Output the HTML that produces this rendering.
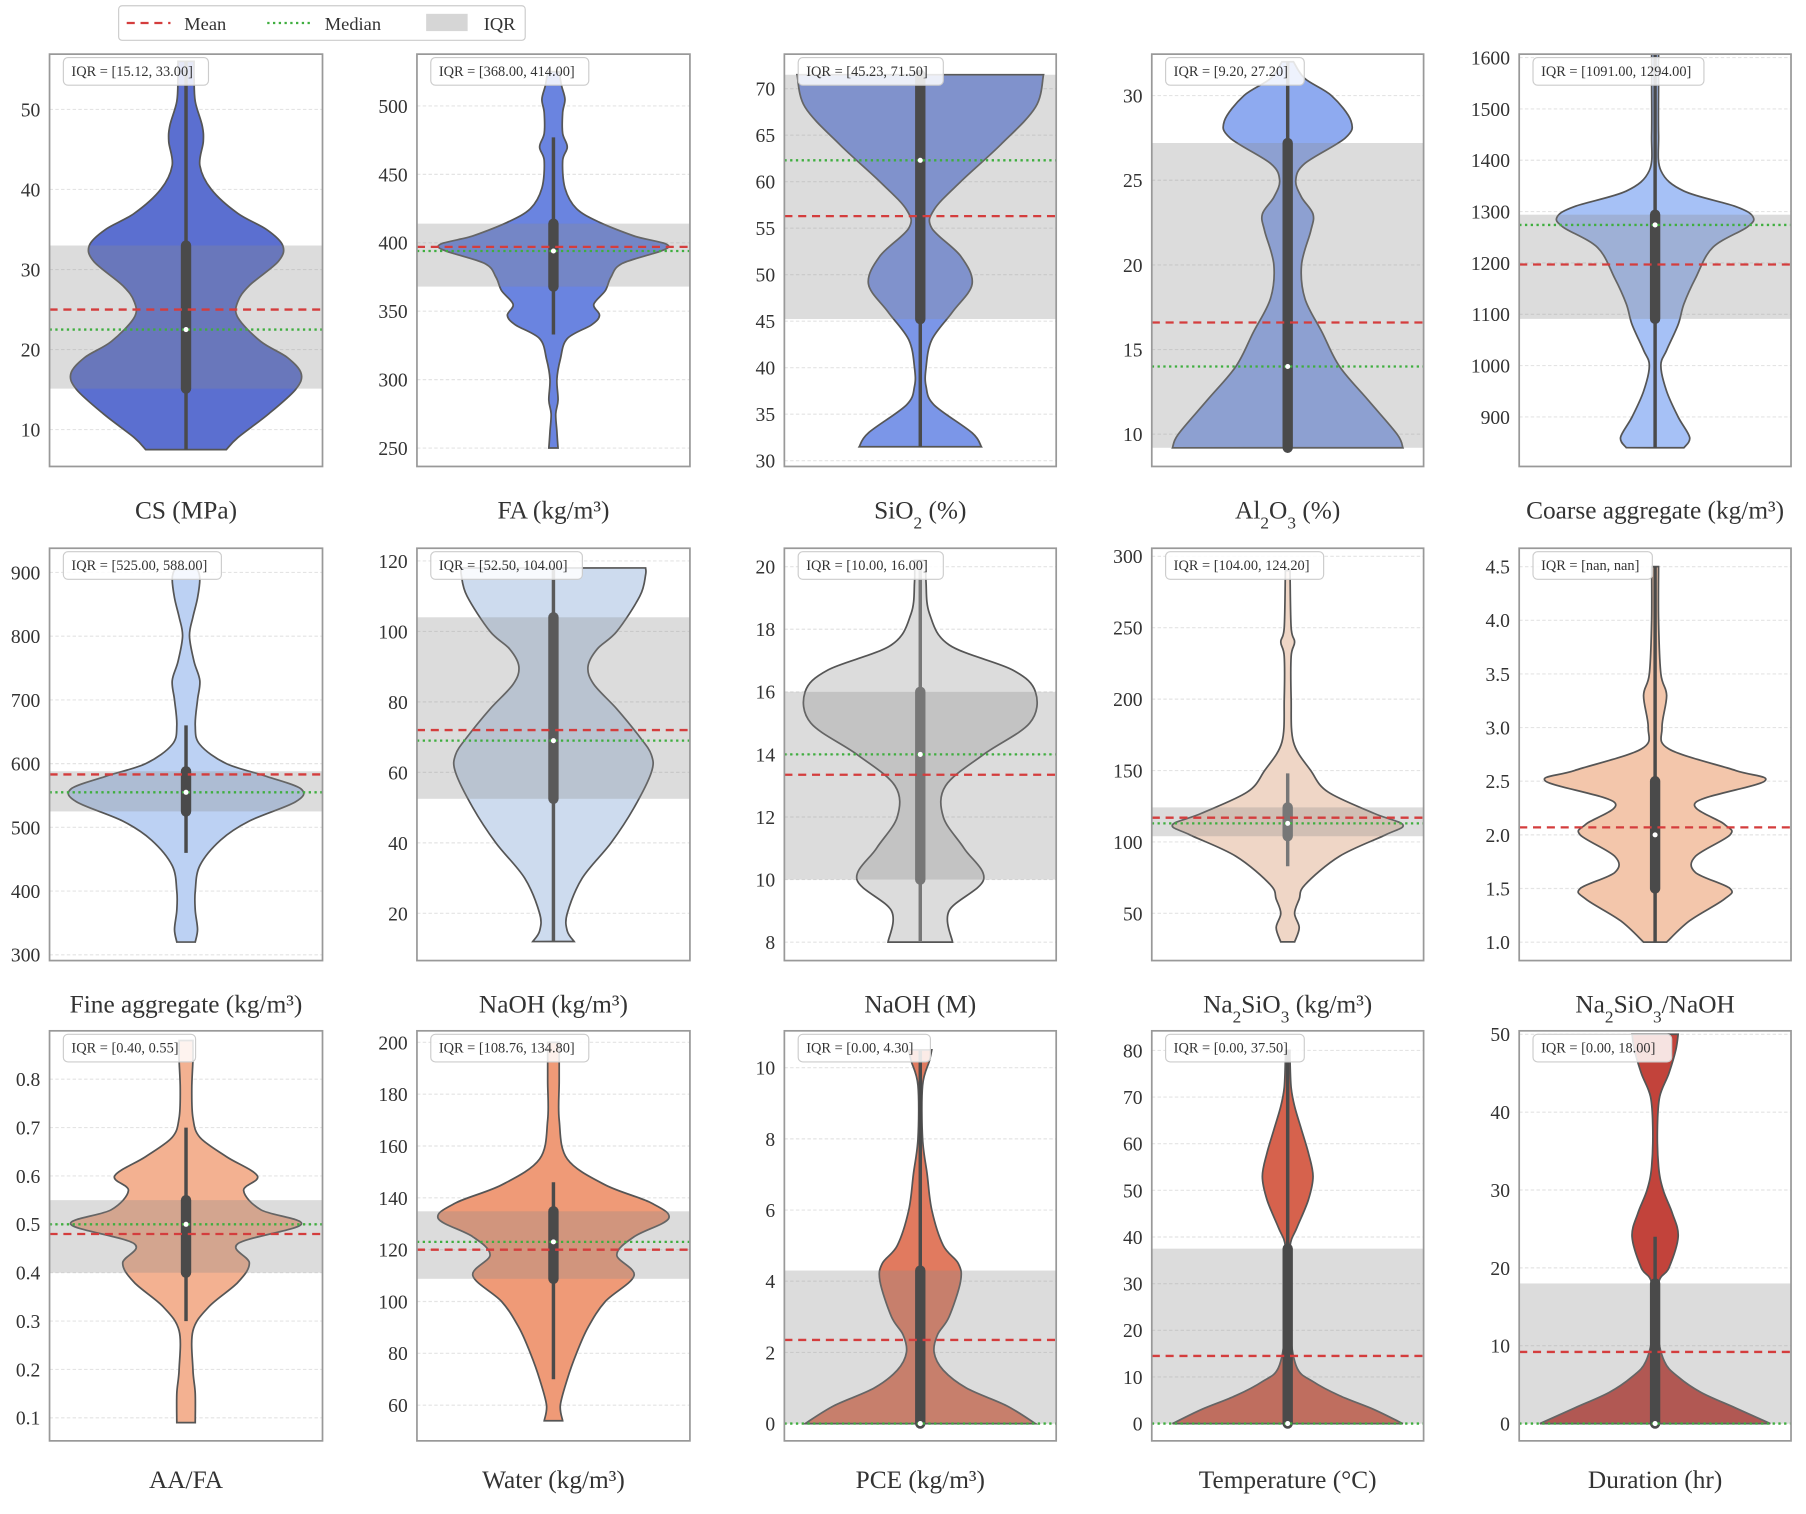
<!DOCTYPE html>
<html><head><meta charset="utf-8"><style>
html,body{margin:0;padding:0;background:#fff}
svg{display:block}
svg text{font-family:"Liberation Serif","DejaVu Serif",serif;fill:#333}
</style></head><body>
<svg id="chart" width="1806" height="1514" viewBox="0 0 1568 1314.5" xmlns="http://www.w3.org/2000/svg" font-family="Liberation Serif, serif">
<g>
<rect x="103" y="5" width="353" height="30" rx="3" fill="#fff" stroke="#ccc"/>
<line x1="110" y1="20" x2="148" y2="20" stroke="#d43d3d" stroke-width="2" stroke-dasharray="7,5"/>
<text x="160" y="26" font-size="16">Mean</text>
<line x1="232" y1="20" x2="270" y2="20" stroke="#3fae3f" stroke-width="2" stroke-dasharray="2,3"/>
<text x="282" y="26" font-size="16">Median</text>
<rect x="370" y="12" width="36" height="15" fill="#d6d6d6"/>
<text x="420" y="26" font-size="16">IQR</text>
</g>
<g id="panels"></g>
</svg>
<script>
// ---- data ----
const titles = ["CS (MPa)","FA (kg/m³)","SiO2 (%)","Al2O3 (%)","Coarse aggregate (kg/m³)","Fine aggregate (kg/m³)","NaOH (kg/m³)","NaOH (M)","Na2SiO3 (kg/m³)","Na2SiO3/NaOH","AA/FA","Water (kg/m³)","PCE (kg/m³)","Temperature (°C)","Duration (hr)"];
const q1s = [15.12,368,45.23,9.2,1091,525,52.5,10,104,null,0.40,108.76,0,0,0];
const q3s = [33,414,71.5,27.2,1294,588,104,16,124.2,null,0.55,134.8,4.3,37.5,18];
const means = [25,397,56.3,16.6,1197,583,72,13.35,117,2.07,0.48,120,2.35,14.5,9.2];
const medians = [22.5,394,62.3,14,1274,555,69,14,113,2.0,0.50,123,0,0,0];
const boxLo = [15.12,368,45.23,9.2,1091,525,52.5,10,104,1.5,0.40,108.76,0,0,0];
const boxHi = [33,414,71.5,27.2,1294,588,104,16,124.2,2.5,0.55,134.8,4.3,37.5,18];
const whiskLo = [7.5,333,31.5,9.2,840,460,12,8,83,1.0,0.3,70,0,0,0];
const whiskHi = [56,477,71.5,32,1620,660,118,20.2,148,4.5,0.7,146,10.5,80,24];
const iqrLabels = ["[15.12, 33.00]","[368.00, 414.00]","[45.23, 71.50]","[9.20, 27.20]","[1091.00, 1294.00]","[525.00, 588.00]","[52.50, 104.00]","[10.00, 16.00]","[104.00, 124.20]","[nan, nan]","[0.40, 0.55]","[108.76, 134.80]","[0.00, 4.30]","[0.00, 37.50]","[0.00, 18.00]"];
const ticks = [[10,20,30,40,50],[250,300,350,400,450,500],[30,35,40,45,50,55,60,65,70],[10,15,20,25,30],[900,1000,1100,1200,1300,1400,1500,1600],
 [300,400,500,600,700,800,900],[20,40,60,80,100,120],[8,10,12,14,16,18,20],[50,100,150,200,250,300],[1.0,1.5,2.0,2.5,3.0,3.5,4.0,4.5],
 [0.1,0.2,0.3,0.4,0.5,0.6,0.7,0.8],[60,80,100,120,140,160,180,200],[0,2,4,6,8,10],[0,10,20,30,40,50,60,70,80],[0,10,20,30,40,50]];
const tickFmt = [0,0,0,0,0,0,0,0,0,1,1,0,0,0,0];
const densVals = [
 [7.5,9,12,15,17,19,21,24,26,28,31,33,35,37,40,43,46,48,51,54,56],
 [250,262,275,285,300,315,330,340,347,355,365,375,385,397,405,415,425,440,460,470,480,495,505,515,525],
 [31.5,33,36,38,40,43,46,49,52,55,57,60,64,68,71.5],
 [9.2,10,12,14,16,18,20,22,23,24,25,26,27.5,28.5,30,31,32],
 [840,860,900,950,1000,1030,1080,1120,1170,1230,1270,1290,1310,1340,1380,1450,1550,1620],
 [320,340,370,400,440,480,510,540,560,580,600,630,660,700,730,760,800,830,860,890,905],
 [12,15,20,30,40,50,60,65,70,78,85,90,95,100,110,116,118],
 [8,9,10,11,12,13,14,15,16,16.7,17.5,18.5,19.5,20.2],
 [30,40,50,60,70,90,105,112,120,135,150,170,200,230,240,250,290],
 [1.0,1.2,1.4,1.5,1.65,1.8,2.0,2.1,2.3,2.5,2.6,2.8,3.0,3.3,3.5,4.0,4.5],
 [0.09,0.15,0.2,0.28,0.33,0.38,0.42,0.46,0.5,0.53,0.57,0.6,0.64,0.68,0.72,0.78,0.84,0.88],
 [54,60,70,80,90,100,110,118,125,132,138,145,155,170,185,200],
 [0,0.5,1,1.5,2,2.5,3,4,4.5,5,6,7,8,9.5,10.2,10.5],
 [0,3,6,9,12,20,30,38,42,48,53,58,63,68,72,78,80],
 [0,2,4,6,8,12,18,20,24,27,30,33,38,42,45,48,50]];
const densWidths = [
 [0.35,0.45,0.72,0.95,1.0,0.88,0.65,0.45,0.45,0.55,0.8,0.84,0.7,0.45,0.22,0.12,0.15,0.14,0.08,0.07,0.07],
 [0.04,0.03,0.02,0.04,0.03,0.06,0.12,0.33,0.4,0.35,0.45,0.5,0.6,1.0,0.7,0.4,0.2,0.1,0.08,0.12,0.08,0.08,0.1,0.07,0.05],
 [0.53,0.45,0.12,0.05,0.05,0.1,0.28,0.45,0.35,0.1,0.12,0.35,0.7,1.0,1.07],
 [1.0,0.95,0.7,0.45,0.3,0.15,0.12,0.2,0.22,0.12,0.07,0.15,0.5,0.55,0.38,0.15,0.05],
 [0.25,0.3,0.2,0.1,0.05,0.1,0.2,0.25,0.35,0.5,0.8,0.85,0.7,0.25,0.05,0.03,0.03,0.03],
 [0.08,0.1,0.08,0.08,0.12,0.3,0.55,0.95,1.0,0.7,0.35,0.12,0.08,0.1,0.12,0.07,0.03,0.06,0.1,0.12,0.1],
 [0.18,0.12,0.12,0.25,0.5,0.7,0.85,0.85,0.75,0.55,0.35,0.3,0.38,0.55,0.75,0.8,0.8],
 [0.28,0.25,0.55,0.38,0.2,0.22,0.55,0.95,1.0,0.8,0.25,0.08,0.05,0.05],
 [0.06,0.1,0.06,0.1,0.15,0.45,0.85,1.0,0.75,0.35,0.2,0.05,0.03,0.03,0.06,0.03,0.02],
 [0.1,0.3,0.6,0.65,0.35,0.35,0.65,0.6,0.35,0.95,0.7,0.12,0.06,0.1,0.05,0.03,0.03],
 [0.08,0.08,0.06,0.06,0.2,0.45,0.55,0.45,1.0,0.65,0.5,0.62,0.35,0.12,0.06,0.05,0.06,0.06],
 [0.08,0.06,0.12,0.2,0.3,0.45,0.7,0.55,0.7,1.0,0.85,0.45,0.12,0.05,0.05,0.05],
 [1.0,0.75,0.4,0.2,0.12,0.15,0.25,0.35,0.33,0.2,0.1,0.06,0.02,0.02,0.08,0.1],
 [1.0,0.75,0.45,0.22,0.08,0.02,0.02,0.02,0.08,0.18,0.22,0.18,0.12,0.06,0.03,0.02,0.02],
 [1.0,0.7,0.4,0.2,0.08,0.02,0.03,0.12,0.2,0.15,0.07,0.03,0.02,0.04,0.12,0.18,0.2]];
// ---- layout (not data) ----
const colors = ["#5b6fd0","#6a84e0","#7b96e8","#8eaaf0","#a6c1f6","#bcd1f3","#cddbee","#dcdcdc","#efd6c6","#f3c6ab","#f3b191","#ef9a77","#e17a5f","#d6624d","#c2433b"];
const boxColors = ["#4a4a4a","#4a4a4a","#4a4a4a","#4a4a4a","#4a4a4a","#4a4a4a","#5a5a5a","#777","#777","#4a4a4a","#4a4a4a","#4a4a4a","#4a4a4a","#4a4a4a","#4a4a4a"];
const colX = [[43,280],[362,599],[681,917],[1000,1236],[1319,1555]];
const rowY = [[47,405],[476,834],[895,1251]];
const calib = [[95,373],[92,389],[77,400],[83,377],[50,362],[497,829],[487,793],[492,818],[483,793],[492,818],[937,1231],[905,1220],[927,1236],[912,1236],[898,1236]];
const titleY = [450,879,1292];
const MAXW = 100;
const FONT = '"Liberation Serif", "DejaVu Serif", serif';
const NS = "http://www.w3.org/2000/svg";
const root = document.getElementById('panels');
function mk(tag, attrs, parent){const e=document.createElementNS(NS,tag);for(const k in attrs)e.setAttribute(k,attrs[k]);if(tag==='text')e.setAttribute('font-family',FONT);(parent||root).appendChild(e);return e;}
function yScale(i,v){const t=ticks[i];const lo=t[0],hi=t[t.length-1];const [yhi,ylo]=calib[i];return ylo+(v-lo)*(yhi-ylo)/(hi-lo);}
function smooth(pts){let d="";for(let k=0;k<pts.length-1;k++){const p0=pts[Math.max(0,k-1)],p1=pts[k],p2=pts[k+1],p3=pts[Math.min(pts.length-1,k+2)];
 const c1=[p1[0]+(p2[0]-p0[0])/6,p1[1]+(p2[1]-p0[1])/6],c2=[p2[0]-(p3[0]-p1[0])/6,p2[1]-(p3[1]-p1[1])/6];
 d+=` C${c1[0].toFixed(1)},${c1[1].toFixed(1)} ${c2[0].toFixed(1)},${c2[1].toFixed(1)} ${p2[0].toFixed(1)},${p2[1].toFixed(1)}`;}return d;}
function titleText(i,x,y,g){
 const t=mk('text',{x:x,y:y,'font-size':22,'text-anchor':'middle'},g);
 const s=titles[i];
 const parts=[];
 if(s.startsWith("SiO2")) parts.push(["SiO",0],["2",1],[s.slice(4),0]);
 else if(s.startsWith("Al2O3")) parts.push(["Al",0],["2",1],["O",0],["3",1],[s.slice(5),0]);
 else if(s.startsWith("Na2SiO3")) parts.push(["Na",0],["2",1],["SiO",0],["3",1],[s.slice(7),0]);
 else parts.push([s,0]);
 parts.forEach(p=>{const ts=mk('tspan',{},t);if(p[1]){ts.setAttribute('font-size','15');ts.setAttribute('baseline-shift','sub');}ts.textContent=p[0];});
 return t;}
for(let i=0;i<15;i++){
 const r=Math.floor(i/5),c=i%5;
 const [x0,x1]=colX[c],[y0,y1]=rowY[r];const cx=(x0+x1)/2;
 const g=mk('g',{});
 
 
 const clipId='clip'+i;
 const cp=mk('clipPath',{id:clipId},g);mk('rect',{x:x0,y:y0,width:x1-x0,height:y1-y0},cp);
 mk('rect',{x:x0,y:y0,width:x1-x0,height:y1-y0,fill:'#fff'},g);
 const inner=mk('g',{'clip-path':`url(#${clipId})`},g);
 ticks[i].forEach(v=>{const y=yScale(i,v);const gl=mk('line',{x1:x0,x2:x1,y1:y,y2:y,stroke:'#e4e4e4','stroke-width':1,'stroke-dasharray':'3,2'},inner);
  
  
  const tl=mk('text',{x:x0-8,y:y+6,'font-size':17,'text-anchor':'end'},g);
  
  
  tl.textContent=tickFmt[i]?v.toFixed(1):String(v);});
 const vals=densVals[i],ws=densWidths[i];
 const right=vals.map((v,k)=>[cx+ws[k]*MAXW,yScale(i,v)]);
 const left=vals.map((v,k)=>[cx-ws[k]*MAXW,yScale(i,v)]).reverse();
 let d=`M${cx},${right[0][1]} L${right[0][0]},${right[0][1]}`+smooth(right)+` L${left[0][0]},${left[0][1]}`+smooth(left)+' Z';
 const vp=mk('path',{d:d,fill:colors[i],stroke:'#555','stroke-width':1.5},inner);
 
 
 if(q1s[i]!==null){const ya=yScale(i,q3s[i]),yb=yScale(i,q1s[i]);
  const band=mk('rect',{x:x0,y:ya,width:x1-x0,height:yb-ya,fill:'#8a8a8a','fill-opacity':0.3},inner);
  
  }
 const wl=mk('line',{x1:cx,x2:cx,y1:yScale(i,whiskLo[i]),y2:yScale(i,whiskHi[i]),stroke:boxColors[i],'stroke-width':3},inner);
 
 
 const bx=mk('line',{x1:cx,x2:cx,y1:yScale(i,boxLo[i]),y2:yScale(i,boxHi[i]),stroke:boxColors[i],'stroke-width':9,'stroke-linecap':'round'},inner);
 
 
 const ym=yScale(i,means[i]);
 const ml=mk('line',{x1:x0,x2:x1,y1:ym,y2:ym,stroke:'#d43d3d','stroke-width':2,'stroke-dasharray':'7,5'},inner);
 
 
 const yd=yScale(i,medians[i]);
 if(q1s[i]!==null){const md=mk('line',{x1:x0,x2:x1,y1:yd,y2:yd,stroke:'#3fae3f','stroke-width':2,'stroke-dasharray':'2,3'},inner);
  
  }
 const dot=mk('circle',{cx:cx,cy:yd,r:2.2,fill:'#fff'},inner);
 
 
 mk('rect',{x:x0,y:y0,width:x1-x0,height:y1-y0,fill:'none',stroke:'#999','stroke-width':1.5},g);
 const lb=mk('g',{},g);
 
 
 const lt='IQR = '+iqrLabels[i];
 const bw=lt.length*5.6+14;
 mk('rect',{x:x0+12,y:y0+3,width:bw,height:24,rx:4,fill:'#fff','fill-opacity':0.85,stroke:'#ccc'},lb);
 const tt=mk('text',{x:x0+19,y:y0+19,'font-size':12.5},lb);tt.textContent=lt;
 const ttl=titleText(i,cx,titleY[r],g);
 
 
}
</script>
</body></html>
